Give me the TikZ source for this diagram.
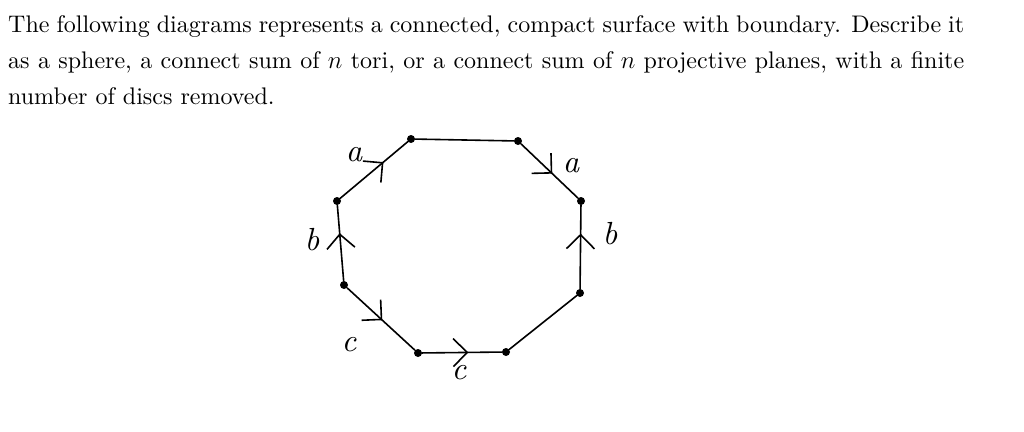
\documentclass[tikz,border=0pt]{standalone}
\usepackage{fontspec}
\setmainfont{lmroman10-regular.otf}[ItalicFont=lmroman10-italic.otf,BoldFont=lmroman10-bold.otf]
\usetikzlibrary{arrows.meta,decorations.markings}
\tikzset{
  vtx/.style={circle,fill=black,inner sep=0pt,minimum size=8pt},
  edge/.style={line width=1.6pt,line cap=round},
  chev/.style={postaction={decorate},decoration={markings,
     mark=at position #1 with {\arrow[line width=1.6pt]{Straight Barb[length=14pt,width=28pt]}}}},
  lbl/.style={font=\fontsize{32}{32}\selectfont\itshape,inner sep=0pt}
}
\begin{document}
\begin{tikzpicture}[x=1pt,y=-1pt]
\useasboundingbox[fill=white] (0,0) rectangle (1024,431);
\node[anchor=north west,inner sep=0pt,text width=956pt,align=justify,
      font=\fontsize{24}{36}\selectfont] (q) at (8,15.6)
 {\hyphenpenalty=10000 The following diagrams represents a connected, compact surface with boundary. Describe it\linebreak
  as a sphere, a connect sum of $n$ tori, or a connect sum of $n$ projective planes, with a finite\linebreak
  number of discs removed.};
\node[vtx] (v1) at (411,139) {};
\node[vtx] (v2) at (518,141) {};
\node[vtx] (v3) at (581,201) {};
\node[vtx] (v4) at (580,293) {};
\node[vtx] (v5) at (506,352) {};
\node[vtx] (v6) at (418,353) {};
\node[vtx] (v7) at (344,285) {};
\node[vtx] (v8) at (337,201) {};
\draw[edge] (v1) -- (v2);
\draw[edge,chev=0.55] (v2) -- (v3);
\draw[edge,chev=0.66] (v4) -- (v3);
\draw[edge] (v4) -- (v5);
\draw[edge,chev=0.58] (v6) -- (v5);
\draw[edge,chev=0.52] (v7) -- (v6);
\draw[edge,chev=0.63] (v7) -- (v8);
\draw[edge,chev=0.64] (v8) -- (v1);
\node[lbl] (la1) at (354,155) {a};
\node[lbl] (la2) at (571,166) {a};
\node[lbl] (lb1) at (312,240) {b};
\node[lbl] (lb2) at (610,234) {b};
\node[lbl] (lc1) at (349,345) {c};
\node[lbl] (lc2) at (459,373) {c};
\end{tikzpicture}
\end{document}
